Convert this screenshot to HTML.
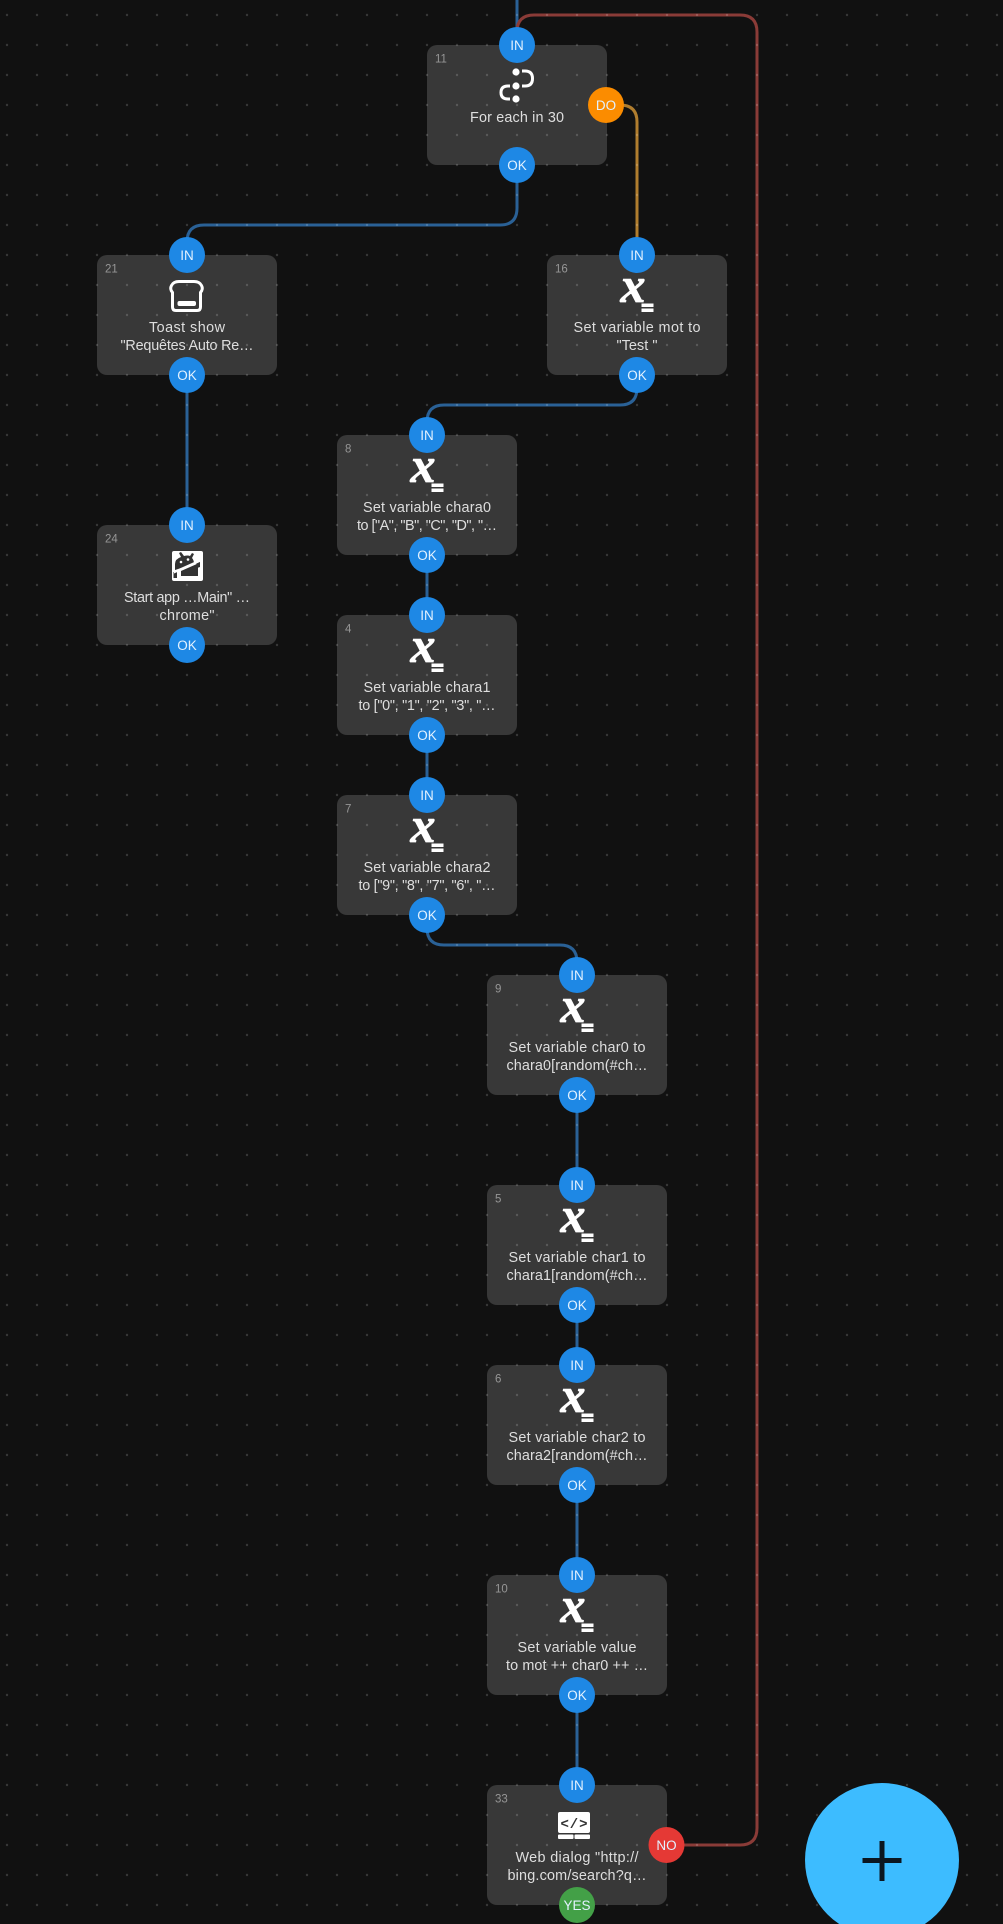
<!DOCTYPE html>
<html><head><meta charset="utf-8">
<style>
html,body{margin:0;padding:0;background:#111;width:1003px;height:1924px;overflow:hidden}
svg{display:block}
.t{font-family:"Liberation Sans",sans-serif;font-size:14.4px;fill:#dedede;text-anchor:middle}
.n{font-family:"Liberation Sans",sans-serif;font-size:11.5px;fill:#969696}
.p{font-family:"Liberation Sans",sans-serif;font-size:13.5px;fill:#e2f1ff;text-anchor:middle}
.x{font-family:"Liberation Serif",serif;font-weight:bold;font-style:italic;font-size:50px;fill:#fff;stroke:#fff;stroke-width:.8;text-anchor:middle}
.b{fill:#1e88e5}
.c{fill:none;stroke-width:3;stroke-linecap:round}
</style></head><body>
<svg width="1003" height="1924" viewBox="0 0 1003 1924" xmlns="http://www.w3.org/2000/svg">
<defs>
<pattern id="d" x="0" y="0" width="30" height="30" patternUnits="userSpaceOnUse"><circle cx="7" cy="15" r="1.2" fill="#fff" fill-opacity=".16"/></pattern>
<g id="xi"><text class="x" x="-4" y="47">x</text><rect x="4.500" y="48.500" width="12" height="3.500" fill="#fff"/><rect x="4.500" y="53.500" width="12" height="3.500" fill="#fff"/></g>
</defs>
<rect width="1003" height="1924" fill="#111"/>
<!-- connectors -->
<g stroke="#2a6196">
<path class="c" d="M517 0V45"/>
<path class="c" d="M517 165V208Q517 225 500 225H204Q187 225 187 242V255"/>
<path class="c" d="M187 375V525"/>
<path class="c" d="M637 375V388Q637 405 620 405H444Q427 405 427 422V435"/>
<path class="c" d="M427 555V615M427 735V795"/>
<path class="c" d="M427 915V928Q427 945 444 945H560Q577 945 577 962V975"/>
<path class="c" d="M577 1095V1185M577 1305V1365M577 1485V1575M577 1695V1785"/>
</g>
<path class="c" stroke="#b07d2e" d="M606 105H620Q637 105 637 122V255"/>
<path class="c" stroke="#8a3b37" d="M517 45V32Q517 15 534 15H740Q757 15 757 32V1828Q757 1845 740 1845H667"/>
<!-- nodes -->
<g fill="#383838">
<rect x="427" y="45" width="180" height="120" rx="10"/>
<rect x="97" y="255" width="180" height="120" rx="10"/>
<rect x="547" y="255" width="180" height="120" rx="10"/>
<rect x="97" y="525" width="180" height="120" rx="10"/>
<rect x="337" y="435" width="180" height="120" rx="10"/>
<rect x="337" y="615" width="180" height="120" rx="10"/>
<rect x="337" y="795" width="180" height="120" rx="10"/>
<rect x="487" y="975" width="180" height="120" rx="10"/>
<rect x="487" y="1185" width="180" height="120" rx="10"/>
<rect x="487" y="1365" width="180" height="120" rx="10"/>
<rect x="487" y="1575" width="180" height="120" rx="10"/>
<rect x="487" y="1785" width="180" height="120" rx="10"/>
</g>
<rect width="1003" height="1924" fill="url(#d)"/>
<!-- numbers -->
<text class="n" x="435" y="62.500">11</text>
<text class="n" x="105" y="272.500">21</text>
<text class="n" x="555" y="272.500">16</text>
<text class="n" x="105" y="542.500">24</text>
<text class="n" x="345" y="452.500">8</text>
<text class="n" x="345" y="632.500">4</text>
<text class="n" x="345" y="812.500">7</text>
<text class="n" x="495" y="992.500">9</text>
<text class="n" x="495" y="1202.500">5</text>
<text class="n" x="495" y="1382.500">6</text>
<text class="n" x="495" y="1592.500">10</text>
<text class="n" x="495" y="1802.500">33</text>
<!-- icons -->
<g>
<circle cx="516" cy="72" r="3.600" fill="#fff"/><circle cx="516" cy="86" r="3.600" fill="#fff"/><circle cx="516" cy="99" r="3.600" fill="#fff"/>
<path d="M522 71H525Q532.500 71 532.500 78.500Q532.500 86 525 86H522M510 86H508Q501 86 501 92.500Q501 99 508 99H510" fill="none" stroke="#fff" stroke-width="3"/>
</g>
<g>
<path d="M176 310.500H197Q200.500 310.500 200.500 307V292.500Q203.500 289 201.500 285.500Q199.500 281.500 194 281.500H179Q173.500 281.500 171.500 285.500Q169.500 289 172.500 292.500V307Q172.500 310.500 176 310.500Z" fill="none" stroke="#fff" stroke-width="3"/>
<rect x="177.500" y="301" width="18.500" height="5" rx="2" fill="#fff"/>
</g>
<g>
<rect x="172" y="551" width="31" height="30" rx="2" fill="#fff"/>
<path d="M175 570V564Q175 559 181 557L179 553L181 552L184 556Q188 555 190 556L192 553L194 554L192 558Q194 560 194 564Z" fill="#333"/>
<path d="M181 576V571L198 563.500V576Z" fill="#333"/>
<path d="M173.500 572H177V578H173.500Z" fill="#333"/>
<path d="M196 562L200 560V567L197 568Z" fill="#333"/>
<path d="M174 571L201 559V561.500L174 573.500Z" fill="#fff"/>
<circle cx="181" cy="562" r="1.300" fill="#fff"/><circle cx="188" cy="559.500" r="1.300" fill="#fff"/>
</g>
<g>
<rect x="558" y="1812" width="32" height="21" rx="2" fill="#fff"/>
<rect x="558" y="1834.500" width="15.500" height="4.500" rx="1" fill="#fff"/>
<rect x="574.500" y="1834.500" width="15.500" height="4.500" rx="1" fill="#fff"/>
<text x="574" y="1828" font-family="'Liberation Mono',monospace" font-weight="bold" font-size="14" fill="#333" text-anchor="middle" textLength="27" lengthAdjust="spacing">&lt;/&gt;</text>
</g>
<use href="#xi" x="637" y="255"/>
<use href="#xi" x="427" y="435"/>
<use href="#xi" x="427" y="615"/>
<use href="#xi" x="427" y="795"/>
<use href="#xi" x="577" y="975"/>
<use href="#xi" x="577" y="1185"/>
<use href="#xi" x="577" y="1365"/>
<use href="#xi" x="577" y="1575"/>
<!-- labels -->
<text class="t" x="517" y="122" textLength="94">For each in 30</text>
<text class="t" x="187" y="332" textLength="76">Toast show</text>
<text class="t" x="187" y="350" textLength="133">"Requêtes Auto Re…</text>
<text class="t" x="637" y="332" textLength="127">Set variable mot to</text>
<text class="t" x="637" y="350" textLength="41">"Test "</text>
<text class="t" x="187" y="602" textLength="126">Start app …Main" …</text>
<text class="t" x="187" y="620" textLength="55">chrome"</text>
<text class="t" x="427" y="512" textLength="128">Set variable chara0</text>
<text class="t" x="427" y="530" textLength="140">to ["A", "B", "C", "D", "…</text>
<text class="t" x="427" y="692" textLength="127">Set variable chara1</text>
<text class="t" x="427" y="710" textLength="137">to ["0", "1", "2", "3", "…</text>
<text class="t" x="427" y="872" textLength="127">Set variable chara2</text>
<text class="t" x="427" y="890" textLength="137">to ["9", "8", "7", "6", "…</text>
<text class="t" x="577" y="1052" textLength="137">Set variable char0 to</text>
<text class="t" x="577" y="1070" textLength="141">chara0[random(#ch…</text>
<text class="t" x="577" y="1262" textLength="137">Set variable char1 to</text>
<text class="t" x="577" y="1280" textLength="141">chara1[random(#ch…</text>
<text class="t" x="577" y="1442" textLength="137">Set variable char2 to</text>
<text class="t" x="577" y="1460" textLength="141">chara2[random(#ch…</text>
<text class="t" x="577" y="1652" textLength="119">Set variable value</text>
<text class="t" x="577" y="1670" textLength="142">to mot ++ char0 ++ …</text>
<text class="t" x="577" y="1862" textLength="123">Web dialog "http://</text>
<text class="t" x="577" y="1880" textLength="139">bing.com/search?q…</text>
<!-- ports -->
<g>
<circle class="b" cx="517" cy="45" r="18"/><circle class="b" cx="517" cy="165" r="18"/>
<circle class="b" cx="187" cy="255" r="18"/><circle class="b" cx="187" cy="375" r="18"/>
<circle class="b" cx="637" cy="255" r="18"/><circle class="b" cx="637" cy="375" r="18"/>
<circle class="b" cx="187" cy="525" r="18"/><circle class="b" cx="187" cy="645" r="18"/>
<circle class="b" cx="427" cy="435" r="18"/><circle class="b" cx="427" cy="555" r="18"/>
<circle class="b" cx="427" cy="615" r="18"/><circle class="b" cx="427" cy="735" r="18"/>
<circle class="b" cx="427" cy="795" r="18"/><circle class="b" cx="427" cy="915" r="18"/>
<circle class="b" cx="577" cy="975" r="18"/><circle class="b" cx="577" cy="1095" r="18"/>
<circle class="b" cx="577" cy="1185" r="18"/><circle class="b" cx="577" cy="1305" r="18"/>
<circle class="b" cx="577" cy="1365" r="18"/><circle class="b" cx="577" cy="1485" r="18"/>
<circle class="b" cx="577" cy="1575" r="18"/><circle class="b" cx="577" cy="1695" r="18"/>
<circle class="b" cx="577" cy="1785" r="18"/>
</g>
<circle cx="606" cy="105" r="18" fill="#fb8c00"/>
<circle cx="666.500" cy="1845" r="18" fill="#e53935"/>
<circle cx="577" cy="1905" r="18" fill="#43a047"/>
<g>
<text class="p" x="517" y="50">IN</text><text class="p" x="517" y="170">OK</text>
<text class="p" x="606" y="110">DO</text>
<text class="p" x="187" y="260">IN</text><text class="p" x="187" y="380">OK</text>
<text class="p" x="637" y="260">IN</text><text class="p" x="637" y="380">OK</text>
<text class="p" x="187" y="530">IN</text><text class="p" x="187" y="650">OK</text>
<text class="p" x="427" y="440">IN</text><text class="p" x="427" y="560">OK</text>
<text class="p" x="427" y="620">IN</text><text class="p" x="427" y="740">OK</text>
<text class="p" x="427" y="800">IN</text><text class="p" x="427" y="920">OK</text>
<text class="p" x="577" y="980">IN</text><text class="p" x="577" y="1100">OK</text>
<text class="p" x="577" y="1190">IN</text><text class="p" x="577" y="1310">OK</text>
<text class="p" x="577" y="1370">IN</text><text class="p" x="577" y="1490">OK</text>
<text class="p" x="577" y="1580">IN</text><text class="p" x="577" y="1700">OK</text>
<text class="p" x="577" y="1790">IN</text>
<text class="p" x="666.500" y="1850">NO</text>
<text class="p" x="577" y="1910">YES</text>
</g>
<!-- FAB -->
<circle cx="882" cy="1860" r="77" fill="#3dbcff"/>
<rect x="862.500" y="1858" width="39" height="5" fill="#0b1620"/>
<rect x="879.500" y="1841" width="5" height="40" fill="#0b1620"/>
</svg>
</body></html>
